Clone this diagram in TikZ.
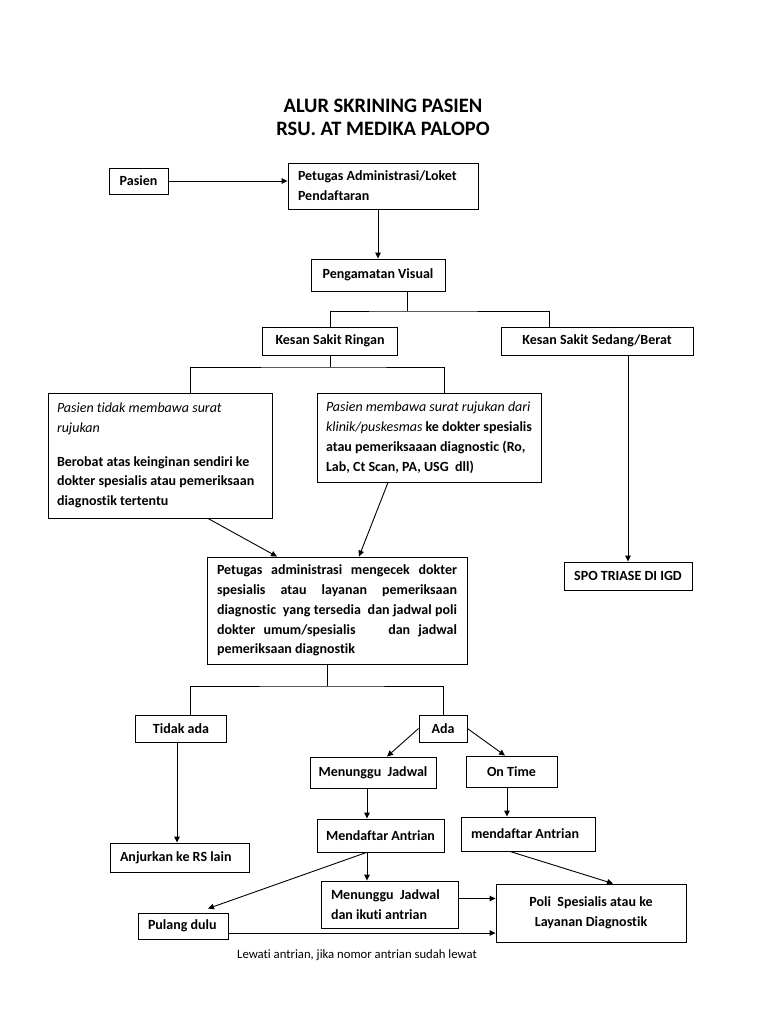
\documentclass[tikz,border=0pt]{standalone}
\usepackage{fontspec}
\setmainfont{Carlito}[Ligatures={NoCommon}]
\usetikzlibrary{arrows.meta}
\begin{document}
\begin{tikzpicture}[x=1pt,y=-1pt,
  box/.style={draw, line width=0.9pt, inner sep=0pt, font=\fontsize{14}{19.8}\selectfont\bfseries},
  lbox/.style={box, inner xsep=10pt, align=flush left},
  ln/.style={line width=0.9pt},
  arr/.style={line width=0.9pt, -{Triangle[length=6pt,width=5.5pt]}},
  titlefont/.style={font=\fontsize{20.5}{23.5}\selectfont\bfseries, align=center},
  notefont/.style={font=\fontsize{12.7}{14}\selectfont}
]
\useasboundingbox (0,0) rectangle (768,1024);
\fill[white] (0,0) rectangle (768,1024);

\node[titlefont] (title) at (383,117.5) {ALUR SKRINING PASIEN\\RSU. AT MEDIKA PALOPO};

\node[box, minimum width=59pt, minimum height=26pt] (pasien) at (138.5,181) {Pasien};
\node[lbox, text width=170pt, minimum height=46pt] (admin) at (383,186) {Petugas Administrasi/Loket\\Pendaftaran};
\node[box, minimum width=134pt, minimum height=32pt] (visual) at (378,275) {Pengamatan Visual};
\node[box, minimum width=135pt, minimum height=28pt] (ringan) at (330,341) {Kesan Sakit Ringan};
\node[box, minimum width=192pt, minimum height=28pt] (sedang) at (597,341) {Kesan Sakit Sedang/Berat};

\node[lbox, inner xsep=9pt, text width=206pt, minimum height=125pt] (tidakrujuk) at (160,455.5)
  {{\mdseries\itshape Pasien tidak membawa surat\\rujukan}\\[14pt]
   Berobat atas keinginan sendiri ke\\dokter spesialis atau pemeriksaan\\diagnostik tertentu};
\node[lbox, inner xsep=9pt, text width=206pt, minimum height=89pt] (rujuk) at (429,437.5)
  {{\mdseries\itshape Pasien membawa surat rujukan dari}\\
   {\mdseries\itshape klinik/puskesmas} ke dokter spesialis\\
   atau pemeriksaaan diagnostic (Ro,\\
   Lab, Ct Scan, PA, USG\ \ dll)};

\node[lbox, text width=240pt, minimum height=107pt] (cek) at (337,610.5)
  {\makebox[240pt][s]{Petugas administrasi mengecek dokter}\\
   \makebox[240pt][s]{spesialis atau layanan pemeriksaan}\\
   \makebox[240pt][s]{diagnostic\ \ yang tersedia\ \ dan jadwal poli}\\
   \makebox[240pt][s]{dokter umum/spesialis\ \ \ \ dan jadwal}\\
   pemeriksaan diagnostik};

\node[box, minimum width=128pt, minimum height=28pt] (spo) at (628,576) {SPO TRIASE DI IGD};

\node[box, minimum width=91pt, minimum height=27pt] (tidakada) at (181,728.5) {Tidak ada};
\node[box, minimum width=48pt, minimum height=27pt] (ada) at (443,728.5) {Ada};
\node[box, minimum width=126pt, minimum height=31pt] (menunggu) at (373,772.5) {Menunggu\ \ Jadwal};
\node[box, minimum width=91pt, minimum height=31pt] (ontime) at (511.5,771.5) {On Time};

\node[lbox, text width=119pt, minimum height=29pt] (anjurkan) at (179.5,857.5) {Anjurkan ke RS lain};
\node[box, minimum width=127pt, minimum height=33pt] (daftar) at (380.5,835.5) {Mendaftar Antrian};
\node[lbox, text width=114pt, minimum height=34pt] (daftar2) at (528,834) {mendaftar Antrian};
\node[lbox, text width=117pt, minimum height=47pt] (menunggu2) at (389.5,904.5) {Menunggu\ \ Jadwal\\dan ikuti antrian};
\node[lbox, text width=70pt, minimum height=26pt] (pulang) at (183,926) {Pulang dulu};
\node[box, minimum width=190pt, minimum height=58pt, align=center] (poli) at (591,913) {Poli\ \ Spesialis atau ke\\Layanan Diagnostik};

\node[notefont] (lewati) at (357,955) {Lewati antrian, jika nomor antrian sudah lewat};

% connectors
\coordinate (j1) at (407,311);
\coordinate (j2) at (330,367);
\coordinate (j3) at (327,686);

\draw[arr] (pasien.east) -- (pasien.east -| admin.west);
\draw[arr] (admin.south -| visual.north) -- (visual.north);
\draw[ln] ([xshift=29pt]visual.south) -- (j1);
\draw[ln] (ringan.north) |- (j1) -| ([xshift=-48pt]sedang.north);
\draw[ln] (ringan.south) -- (j2);
\draw[ln] ([xshift=30pt]tidakrujuk.north) |- (j2) -| ([xshift=15pt]rujuk.north);
\draw[arr] ([xshift=31pt]sedang.south) -- (spo.north);
\draw[arr] ([xshift=48pt]tidakrujuk.south) -- ([xshift=-60pt]cek.north);
\draw[arr] ([xshift=-41pt]rujuk.south) -- ([xshift=22pt]cek.north);
\draw[ln] ([xshift=-10pt]cek.south) -- (j3);
\draw[ln] ([xshift=9pt]tidakada.north) |- (j3) -| (ada.north);
\draw[arr] (ada.west) -- ([xshift=14pt]menunggu.north);
\draw[arr] (ada.east) -- ([xshift=-6.5pt]ontime.north);
\draw[arr] ([xshift=-4pt]tidakada.south) -- ([xshift=-4pt]tidakada.south |- anjurkan.north);
\draw[arr] ([xshift=-6pt]menunggu.south) -- ([xshift=-6pt]menunggu.south |- daftar.north);
\draw[arr] ([xshift=-4.5pt]ontime.south) -- ([xshift=-4.5pt]ontime.south |- daftar2.north);
\draw[arr] ([xshift=-13.5pt]daftar.south) -- ([xshift=-13.5pt]daftar.south |- menunggu2.north);
\draw[arr] ([xshift=-14pt]daftar.south) -- ([xshift=25pt,yshift=4pt]pulang.north);
\draw[arr] ([xshift=-18pt]daftar2.south) -- ([xshift=22pt]poli.north);
\draw[arr] ([yshift=6pt]menunggu2.east) -- ([yshift=6pt]menunggu2.east -| poli.west);
\draw[arr] ([yshift=-7pt]pulang.east) -- ([yshift=-7pt]pulang.east -| poli.west);
\end{tikzpicture}
\end{document}
